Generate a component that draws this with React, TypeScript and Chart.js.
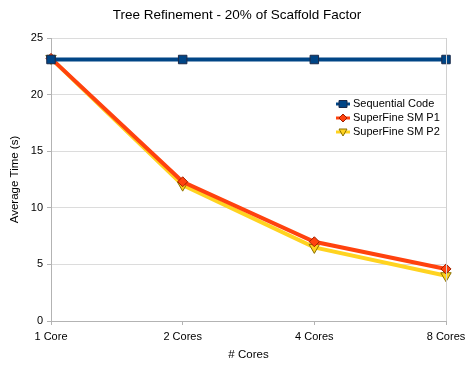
import React, { useEffect, useRef } from "react";
import { Chart, registerables } from "chart.js";

Chart.register(...registerables);

const categories = ["1 Core", "2 Cores", "4 Cores", "8 Cores"];
const sequentialCode = [23.1, 23.1, 23.1, 23.1];
const superFineP1 = [23.2, 12.3, 7.0, 4.6];
const superFineP2 = [23.2, 12.0, 6.5, 4.0];
const yTicks = [0, 5, 10, 15, 20, 25];

const FONT = "'Liberation Sans', Arial, sans-serif";

const legendItems = [
  { label: "Sequential Code", color: "#004586", style: "rect" },
  { label: "SuperFine SM P1", color: "#ff420e", style: "diamond" },
  { label: "SuperFine SM P2", color: "#ffd320", style: "tri" },
];

const customPlugin = {
  id: "custom",
  afterDraw(chart: any) {
    const ctx = chart.ctx;
    const area = chart.chartArea;
    ctx.save();
    // title
    ctx.fillStyle = "#000";
    ctx.font = `13.5px ${FONT}`;
    ctx.textAlign = "center";
    ctx.textBaseline = "middle";
    ctx.fillText("Tree Refinement - 20% of Scaffold Factor", 237, 15);
    // right border
    ctx.strokeStyle = "#d0d0d0";
    ctx.lineWidth = 1;
    ctx.beginPath();
    ctx.moveTo(Math.round(area.right) + 0.5, area.top);
    ctx.lineTo(Math.round(area.right) + 0.5, area.bottom);
    ctx.stroke();
    // legend
    const x0 = 343;
    const ys = [104, 118, 132];
    ctx.font = `11px ${FONT}`;
    ctx.textAlign = "left";
    legendItems.forEach((it, i) => {
      const y = ys[i];
      ctx.strokeStyle = it.color;
      ctx.lineWidth = 3;
      ctx.beginPath();
      ctx.moveTo(x0 - 7, y);
      ctx.lineTo(x0 + 7, y);
      ctx.stroke();
      ctx.fillStyle = it.color;
      ctx.lineWidth = 1;
      ctx.strokeStyle = it.style === "rect" ? "#1a2a4a" : it.style === "diamond" ? "#a02000" : "#8a7000";
      ctx.beginPath();
      if (it.style === "rect") {
        ctx.rect(x0 - 4, y - 3.5, 8, 7);
      } else if (it.style === "diamond") {
        ctx.moveTo(x0, y - 4);
        ctx.lineTo(x0 + 4, y);
        ctx.lineTo(x0, y + 4);
        ctx.lineTo(x0 - 4, y);
        ctx.closePath();
      } else {
        ctx.moveTo(x0 - 4, y - 3);
        ctx.lineTo(x0 + 4, y - 3);
        ctx.lineTo(x0, y + 4);
        ctx.closePath();
      }
      ctx.fill();
      ctx.stroke();
      ctx.fillStyle = "#000";
      ctx.textBaseline = "middle";
      ctx.fillText(it.label, x0 + 10, y);
    });
    ctx.restore();
  },
};

export default function App() {
  const ref = useRef<HTMLCanvasElement>(null);
  useEffect(() => {
    document.body.style.margin = "0";
    const chart = new Chart(ref.current!, {
      type: "line",
      data: {
        labels: categories,
        datasets: [
          {
            label: "Sequential Code",
            data: sequentialCode,
            borderColor: "#004586",
            backgroundColor: "#004586",
            pointBorderColor: "#1a2a4a",
            borderWidth: 4,
            pointStyle: "rect",
            pointRadius: 6,
            pointBorderWidth: 1,
          },
          {
            label: "SuperFine SM P1",
            data: superFineP1,
            borderColor: "#ff420e",
            backgroundColor: "#ff420e",
            pointBorderColor: "#a02000",
            borderWidth: 4,
            pointStyle: "rectRot",
            pointRadius: 5,
            pointBorderWidth: 1,
          },
          {
            label: "SuperFine SM P2",
            data: superFineP2,
            borderColor: "#ffd320",
            backgroundColor: "#ffd320",
            pointBorderColor: "#8a7000",
            borderWidth: 4,
            pointStyle: "triangle",
            rotation: 180,
            pointRadius: 6,
            pointBorderWidth: 1,
          },
        ],
      },
      options: {
        animation: false,
        responsive: false,
        layout: { padding: { top: 38, right: 28, left: 0, bottom: 0 } },
        plugins: { legend: { display: false }, title: { display: false }, tooltip: { enabled: false } },
        scales: {
          x: {
            type: "category",
            offset: false,
            grid: { drawOnChartArea: false, drawTicks: true, tickLength: 4, color: "#b3b3b3" },
            border: { color: "#b3b3b3" },
            ticks: { color: "#000", font: { family: FONT, size: 11 }, maxRotation: 0, padding: 5 },
            title: { display: true, text: "# Cores", color: "#000", font: { family: FONT, size: 11.5 }, padding: { top: 8, bottom: 15 } },
            afterFit(s: any) { s.height = 56; },
          },
          y: {
            min: 0,
            max: 25,
            afterBuildTicks(s: any) { s.ticks = yTicks.map((v) => ({ value: v })); },
            grid: { color: "#dcdcdc", tickLength: 4, tickColor: "#b3b3b3" },
            border: { color: "#b3b3b3" },
            ticks: { color: "#000", font: { family: FONT, size: 11 }, padding: 4 },
            title: { display: true, text: "Average Time (s)", color: "#000", font: { family: FONT, size: 11.5 }, padding: { top: 8, bottom: 4 } },
            afterFit(s: any) { s.width = 51; },
          },
        },
      },
      plugins: [customPlugin],
    });
    return () => chart.destroy();
  }, []);
  return <canvas ref={ref} width={474} height={377} style={{ display: "block" }} />;
}
